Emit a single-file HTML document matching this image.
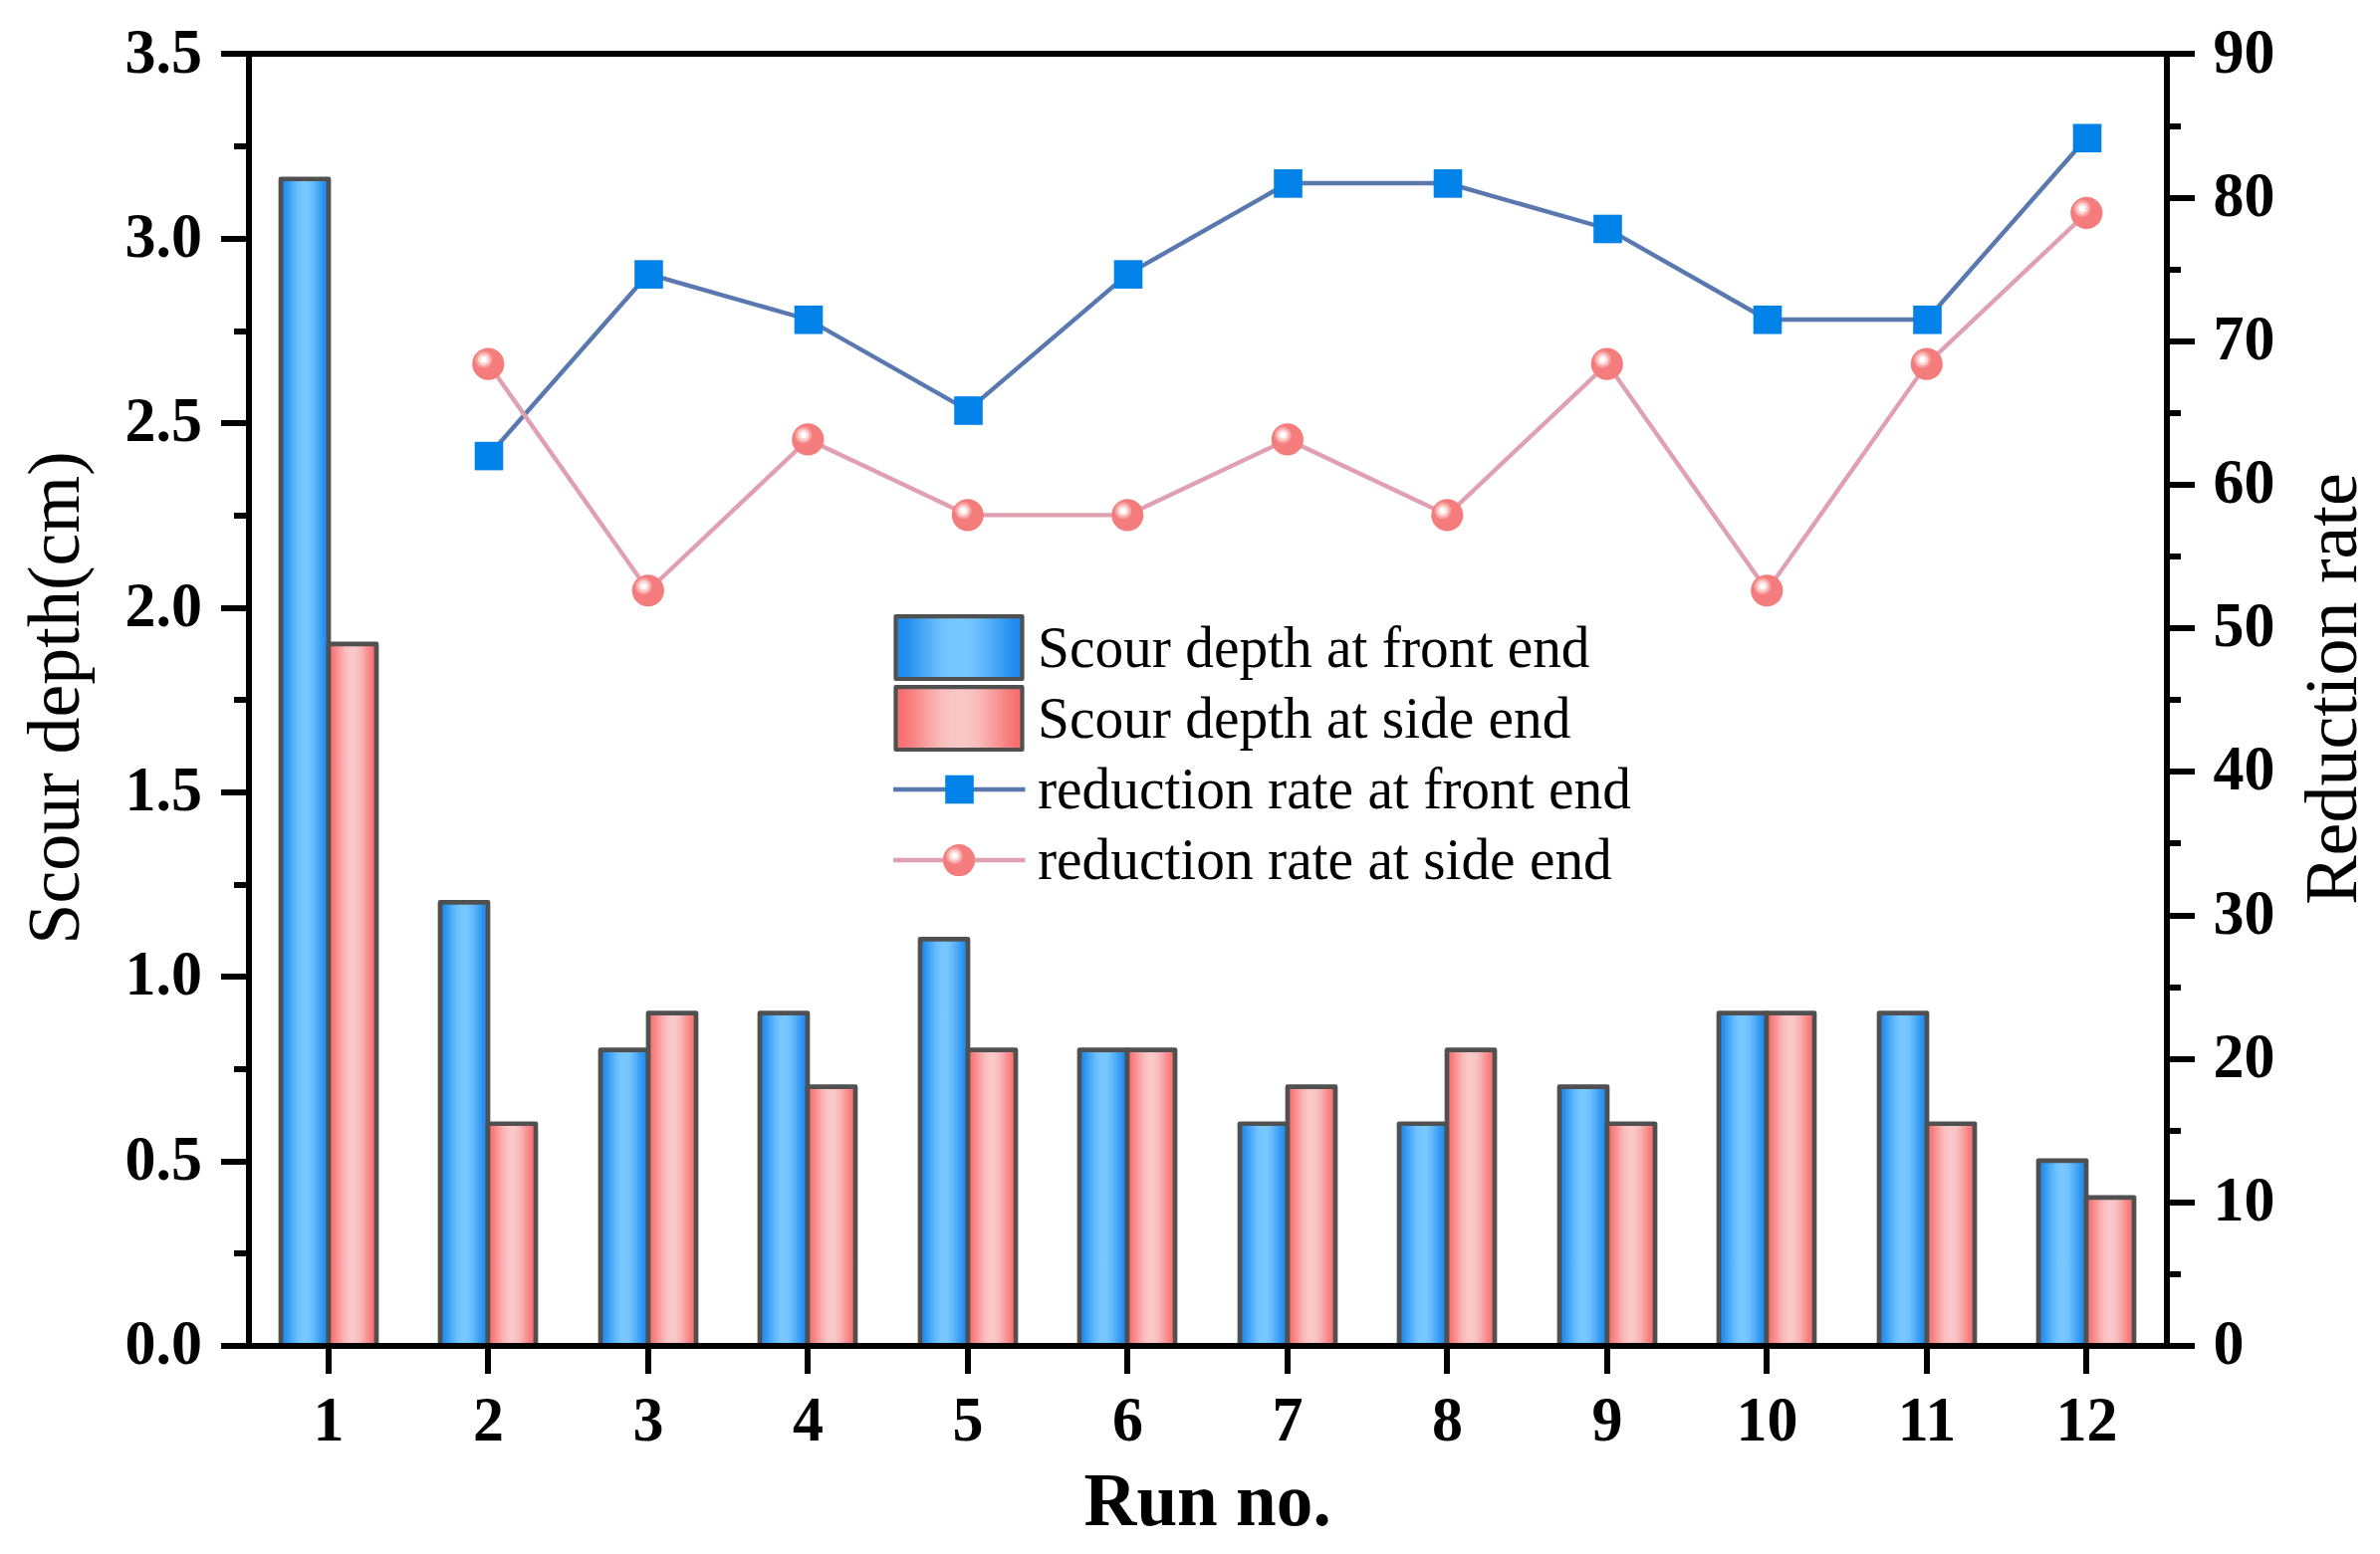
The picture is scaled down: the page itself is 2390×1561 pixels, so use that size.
<!DOCTYPE html>
<html lang="en"><head><meta charset="utf-8"><title>Scour depth and reduction rate</title>
<style>html,body{margin:0;padding:0;background:#fff}body{width:2390px;height:1561px;overflow:hidden}svg{display:block}text{font-family:"Liberation Serif","Times New Roman",serif;fill:#000}.tk{font-weight:bold;font-size:62px}.ax{font-size:74px}.lg{font-size:57.4px}.xt{font-weight:bold;font-size:73.2px}</style></head><body>
<svg width="2390" height="1561" viewBox="0 0 2390 1561">
<defs>
<linearGradient id="gb" x1="0" x2="1" y1="0" y2="0"><stop offset="0.000" stop-color="#1c89ed"/><stop offset="0.050" stop-color="#208cee"/><stop offset="0.100" stop-color="#2992f0"/><stop offset="0.150" stop-color="#369bf2"/><stop offset="0.200" stop-color="#44a4f5"/><stop offset="0.250" stop-color="#51aef7"/><stop offset="0.300" stop-color="#5eb6fa"/><stop offset="0.350" stop-color="#69befc"/><stop offset="0.400" stop-color="#72c4fe"/><stop offset="0.450" stop-color="#76c7ff"/><stop offset="0.500" stop-color="#78c8ff"/><stop offset="0.550" stop-color="#76c7ff"/><stop offset="0.600" stop-color="#72c4fe"/><stop offset="0.650" stop-color="#69befc"/><stop offset="0.700" stop-color="#5eb6fa"/><stop offset="0.750" stop-color="#51aef7"/><stop offset="0.800" stop-color="#44a4f5"/><stop offset="0.850" stop-color="#369bf2"/><stop offset="0.900" stop-color="#2992f0"/><stop offset="0.950" stop-color="#208cee"/><stop offset="1.000" stop-color="#1c89ed"/></linearGradient>
<linearGradient id="gr" x1="0" x2="1" y1="0" y2="0"><stop offset="0.000" stop-color="#f86e6e"/><stop offset="0.050" stop-color="#f87272"/><stop offset="0.100" stop-color="#f87b7b"/><stop offset="0.150" stop-color="#f98787"/><stop offset="0.200" stop-color="#f99595"/><stop offset="0.250" stop-color="#f9a2a2"/><stop offset="0.300" stop-color="#f9afaf"/><stop offset="0.350" stop-color="#fababa"/><stop offset="0.400" stop-color="#fac2c2"/><stop offset="0.450" stop-color="#fac6c6"/><stop offset="0.500" stop-color="#fac8c8"/><stop offset="0.550" stop-color="#fac6c6"/><stop offset="0.600" stop-color="#fac2c2"/><stop offset="0.650" stop-color="#fababa"/><stop offset="0.700" stop-color="#f9afaf"/><stop offset="0.750" stop-color="#f9a2a2"/><stop offset="0.800" stop-color="#f99595"/><stop offset="0.850" stop-color="#f98787"/><stop offset="0.900" stop-color="#f87b7b"/><stop offset="0.950" stop-color="#f87272"/><stop offset="1.000" stop-color="#f86e6e"/></linearGradient>
<g id="ball"><circle r="16.1" fill="#f47c7c"/><circle cx="-4.4" cy="-4.4" r="8.4" fill="#f8a2a2"/><circle cx="-4.4" cy="-4.4" r="6" fill="#fcd2d2"/><circle cx="-4.4" cy="-4.4" r="3.2" fill="#fff"/></g>
</defs>
<rect width="2390" height="1561" fill="#fff"/>
<g stroke="#505050" stroke-width="4.7" stroke-linejoin="round">
<rect x="282.00" y="179.74" width="48.00" height="1172.26" fill="url(#gb)"/>
<rect x="330.00" y="646.84" width="48.00" height="705.16" fill="url(#gr)"/>
<rect x="442.00" y="906.34" width="48.00" height="445.66" fill="url(#gb)"/>
<rect x="490.00" y="1128.77" width="48.00" height="223.23" fill="url(#gr)"/>
<rect x="603.00" y="1054.63" width="48.00" height="297.37" fill="url(#gb)"/>
<rect x="651.00" y="1017.56" width="48.00" height="334.44" fill="url(#gr)"/>
<rect x="763.00" y="1017.56" width="48.00" height="334.44" fill="url(#gb)"/>
<rect x="811.00" y="1091.70" width="48.00" height="260.30" fill="url(#gr)"/>
<rect x="924.00" y="943.41" width="48.00" height="408.59" fill="url(#gb)"/>
<rect x="972.00" y="1054.63" width="48.00" height="297.37" fill="url(#gr)"/>
<rect x="1084.00" y="1054.63" width="48.00" height="297.37" fill="url(#gb)"/>
<rect x="1132.00" y="1054.63" width="48.00" height="297.37" fill="url(#gr)"/>
<rect x="1245.00" y="1128.77" width="48.00" height="223.23" fill="url(#gb)"/>
<rect x="1293.00" y="1091.70" width="48.00" height="260.30" fill="url(#gr)"/>
<rect x="1405.00" y="1128.77" width="48.00" height="223.23" fill="url(#gb)"/>
<rect x="1453.00" y="1054.63" width="48.00" height="297.37" fill="url(#gr)"/>
<rect x="1566.00" y="1091.70" width="48.00" height="260.30" fill="url(#gb)"/>
<rect x="1614.00" y="1128.77" width="48.00" height="223.23" fill="url(#gr)"/>
<rect x="1726.00" y="1017.56" width="48.00" height="334.44" fill="url(#gb)"/>
<rect x="1774.00" y="1017.56" width="48.00" height="334.44" fill="url(#gr)"/>
<rect x="1887.00" y="1017.56" width="48.00" height="334.44" fill="url(#gb)"/>
<rect x="1935.00" y="1128.77" width="48.00" height="223.23" fill="url(#gr)"/>
<rect x="2047.00" y="1165.84" width="48.00" height="186.16" fill="url(#gb)"/>
<rect x="2095.00" y="1202.91" width="48.00" height="149.09" fill="url(#gr)"/>
</g>
<polyline points="490.50,457.80 651.00,275.31 811.50,320.93 972.00,412.18 1132.50,275.31 1293.00,184.07 1453.50,184.07 1614.00,229.69 1774.50,320.93 1935.00,320.93 2095.50,138.45" fill="none" stroke="#5a78b0" stroke-width="4.4"/>
<rect x="476.70" y="443.80" width="28.6" height="28.6" fill="#0082e8"/>
<rect x="637.20" y="261.31" width="28.6" height="28.6" fill="#0082e8"/>
<rect x="797.70" y="306.93" width="28.6" height="28.6" fill="#0082e8"/>
<rect x="958.20" y="398.18" width="28.6" height="28.6" fill="#0082e8"/>
<rect x="1118.70" y="261.31" width="28.6" height="28.6" fill="#0082e8"/>
<rect x="1279.20" y="170.07" width="28.6" height="28.6" fill="#0082e8"/>
<rect x="1439.70" y="170.07" width="28.6" height="28.6" fill="#0082e8"/>
<rect x="1600.20" y="215.69" width="28.6" height="28.6" fill="#0082e8"/>
<rect x="1760.70" y="306.93" width="28.6" height="28.6" fill="#0082e8"/>
<rect x="1921.20" y="306.93" width="28.6" height="28.6" fill="#0082e8"/>
<rect x="2081.70" y="124.45" width="28.6" height="28.6" fill="#0082e8"/>
<polyline points="490.50,365.60 651.00,593.23 811.50,441.47 972.00,517.35 1132.50,517.35 1293.00,441.47 1453.50,517.35 1614.00,365.60 1774.50,593.23 1935.00,365.60 2095.50,213.84" fill="none" stroke="#e0a0b4" stroke-width="4.4"/>
<use href="#ball" x="490.30" y="365.60"/>
<use href="#ball" x="650.80" y="593.23"/>
<use href="#ball" x="811.30" y="441.47"/>
<use href="#ball" x="971.80" y="517.35"/>
<use href="#ball" x="1132.30" y="517.35"/>
<use href="#ball" x="1292.80" y="441.47"/>
<use href="#ball" x="1453.30" y="517.35"/>
<use href="#ball" x="1613.80" y="365.60"/>
<use href="#ball" x="1774.30" y="593.23"/>
<use href="#ball" x="1934.80" y="365.60"/>
<use href="#ball" x="2095.30" y="213.84"/>
<g stroke="#000" stroke-width="6" fill="none" stroke-linecap="butt">
<path d="M222.0 54.0 H2204.0"/>
<path d="M222.0 1352.0 H2204.0"/>
<path d="M250.0 54.0 V1352.0"/>
<path d="M2176.0 54.0 V1352.0"/>
<path d="M235.0 1259.00 H250.0M222.0 1167.00 H250.0M235.0 1074.00 H250.0M222.0 981.00 H250.0M235.0 889.00 H250.0M222.0 796.00 H250.0M235.0 703.00 H250.0M222.0 611.00 H250.0M235.0 518.00 H250.0M222.0 425.00 H250.0M235.0 333.00 H250.0M222.0 240.00 H250.0M235.0 147.00 H250.0M2176.0 1280.00 H2190.0M2176.0 1208.00 H2204.0M2176.0 1136.00 H2190.0M2176.0 1064.00 H2204.0M2176.0 992.00 H2190.0M2176.0 920.00 H2204.0M2176.0 847.00 H2190.0M2176.0 775.00 H2204.0M2176.0 703.00 H2190.0M2176.0 631.00 H2204.0M2176.0 559.00 H2190.0M2176.0 487.00 H2204.0M2176.0 415.00 H2190.0M2176.0 343.00 H2204.0M2176.0 271.00 H2190.0M2176.0 199.00 H2204.0M2176.0 127.00 H2190.0M330.00 1352.0 V1380.0M490.00 1352.0 V1380.0M651.00 1352.0 V1380.0M811.00 1352.0 V1380.0M972.00 1352.0 V1380.0M1132.00 1352.0 V1380.0M1293.00 1352.0 V1380.0M1453.00 1352.0 V1380.0M1614.00 1352.0 V1380.0M1774.00 1352.0 V1380.0M1935.00 1352.0 V1380.0M2095.00 1352.0 V1380.0"/>
</g>
<text class="tk" id="l0" transform="translate(203.00,1370.00) scale(1,1.02)" text-anchor="end">0.0</text>
<text class="tk" id="l1" transform="translate(203.00,1184.64) scale(1,1.02)" text-anchor="end">0.5</text>
<text class="tk" id="l2" transform="translate(203.00,999.29) scale(1,1.02)" text-anchor="end">1.0</text>
<text class="tk" id="l3" transform="translate(203.00,813.93) scale(1,1.02)" text-anchor="end">1.5</text>
<text class="tk" id="l4" transform="translate(203.00,628.57) scale(1,1.02)" text-anchor="end">2.0</text>
<text class="tk" id="l5" transform="translate(203.00,443.21) scale(1,1.02)" text-anchor="end">2.5</text>
<text class="tk" id="l6" transform="translate(203.00,257.86) scale(1,1.02)" text-anchor="end">3.0</text>
<text class="tk" id="l7" transform="translate(203.00,72.50) scale(1,1.02)" text-anchor="end">3.5</text>
<text class="tk" id="r0" transform="translate(2222.50,1370.00) scale(1,1.02)">0</text>
<text class="tk" id="r1" transform="translate(2222.50,1225.83) scale(1,1.02)">10</text>
<text class="tk" id="r2" transform="translate(2222.50,1081.67) scale(1,1.02)">20</text>
<text class="tk" id="r3" transform="translate(2222.50,937.50) scale(1,1.02)">30</text>
<text class="tk" id="r4" transform="translate(2222.50,793.33) scale(1,1.02)">40</text>
<text class="tk" id="r5" transform="translate(2222.50,649.17) scale(1,1.02)">50</text>
<text class="tk" id="r6" transform="translate(2222.50,505.00) scale(1,1.02)">60</text>
<text class="tk" id="r7" transform="translate(2222.50,360.83) scale(1,1.02)">70</text>
<text class="tk" id="r8" transform="translate(2222.50,216.67) scale(1,1.02)">80</text>
<text class="tk" id="r9" transform="translate(2222.50,72.50) scale(1,1.02)">90</text>
<text class="tk" id="x1" transform="translate(330.00,1446.60) scale(1,1.02)" text-anchor="middle">1</text>
<text class="tk" id="x2" transform="translate(490.50,1446.60) scale(1,1.02)" text-anchor="middle">2</text>
<text class="tk" id="x3" transform="translate(651.00,1446.60) scale(1,1.02)" text-anchor="middle">3</text>
<text class="tk" id="x4" transform="translate(811.50,1446.60) scale(1,1.02)" text-anchor="middle">4</text>
<text class="tk" id="x5" transform="translate(972.00,1446.60) scale(1,1.02)" text-anchor="middle">5</text>
<text class="tk" id="x6" transform="translate(1132.50,1446.60) scale(1,1.02)" text-anchor="middle">6</text>
<text class="tk" id="x7" transform="translate(1293.00,1446.60) scale(1,1.02)" text-anchor="middle">7</text>
<text class="tk" id="x8" transform="translate(1453.50,1446.60) scale(1,1.02)" text-anchor="middle">8</text>
<text class="tk" id="x9" transform="translate(1614.00,1446.60) scale(1,1.02)" text-anchor="middle">9</text>
<text class="tk" id="x10" transform="translate(1774.50,1446.60) scale(1,1.02)" text-anchor="middle">10</text>
<text class="tk" id="x11" transform="translate(1935.00,1446.60) scale(1,1.02)" text-anchor="middle">11</text>
<text class="tk" id="x12" transform="translate(2095.50,1446.60) scale(1,1.02)" text-anchor="middle">12</text>
<text class="ax" id="lax" transform="translate(78.80,701.00) rotate(-90)" text-anchor="middle">Scour depth(cm)</text>
<text class="ax" id="rax" transform="translate(2365.50,692.00) rotate(-90)" text-anchor="middle">Reduction rate</text>
<text class="xt" id="xt" transform="translate(1212.60,1531.60) scale(1,1.033)" text-anchor="middle">Run no.</text>
<g stroke="#505050" stroke-width="4.2" stroke-linejoin="round"><rect x="899.5" y="619.2" width="127" height="62.8" fill="url(#gb)"/><rect x="899.5" y="690.2" width="127" height="62.8" fill="url(#gr)"/></g>
<path d="M897 793 H1029.5" stroke="#5a78b0" stroke-width="4.4"/><rect x="949.2" y="778.7" width="28.6" height="28.6" fill="#0082e8"/>
<path d="M897 864 H1029.5" stroke="#e0a0b4" stroke-width="4.4"/><use href="#ball" x="963" y="864"/>
<text class="lg" id="g1" transform="translate(1042.00,670.20) scale(1,1.03)">Scour depth at front end</text>
<text class="lg" id="g2" transform="translate(1042.00,741.00) scale(1,1.03)">Scour depth at side end</text>
<text class="lg" id="g3" transform="translate(1042.00,812.00) scale(1,1.03)">reduction rate at front end</text>
<text class="lg" id="g4" transform="translate(1042.00,883.00) scale(1,1.03)">reduction rate at side end</text>
</svg></body></html>
